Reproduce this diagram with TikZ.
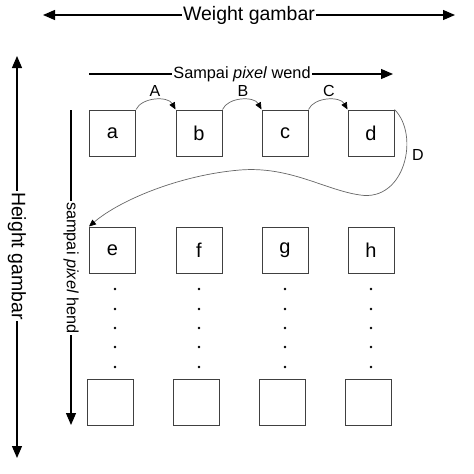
\documentclass[tikz,border=0pt]{standalone}
\usepackage{fontspec}
\setmainfont{Liberation Sans}
\usetikzlibrary{arrows.meta}
\begin{document}
\begin{tikzpicture}[x=1pt,y=-1pt,
  cell/.style={draw=black!75,line width=1pt,minimum width=46pt,minimum height=46pt,inner sep=0pt,font=\fontsize{20}{22}\selectfont},
  bigarrow/.style={line width=1.2pt,-{Triangle[length=12pt,width=10pt]}},
  jump/.style={draw=black!60,line width=0.7pt,-{Triangle[length=7pt,width=6pt,color=black]}},
  lbl/.style={font=\fontsize{16}{18}\selectfont,inner sep=1pt},
  biglbl/.style={font=\fontsize{19.5}{22}\selectfont,fill=white,inner sep=1pt},
  midlbl/.style={font=\fontsize{16.3}{18}\selectfont,fill=white,inner sep=1pt},
  dotc/.style={circle,fill=black,inner sep=0pt,minimum size=2.8pt}]
\useasboundingbox (0,0) rectangle (474,474);
% outer arrows
\coordinate (wl) at (43,15); \coordinate (wr) at (455,15);
\draw[bigarrow,{Triangle[length=12pt,width=10pt]}-{Triangle[length=12pt,width=10pt]}] (wl) -- (wr);
\node[biglbl] (wt) at (249,15) {Weight gambar};
\coordinate (ht) at (17,56); \coordinate (hb) at (17,458);
\draw[bigarrow,{Triangle[length=12pt,width=10pt]}-{Triangle[length=12pt,width=10pt]}] (ht) -- (hb);
\node[biglbl,rotate=-90] (htx) at (17,256) {Height gambar};
% inner arrows
\coordinate (sw0) at (89,74); \coordinate (sw1) at (393,74);
\draw[bigarrow] (sw0) -- (sw1);
\node[midlbl] (swt) at (242,74) {Sampai \textit{pixel} wend};
\coordinate (sh0) at (71,110); \coordinate (sh1) at (71,425);
\draw[bigarrow] (sh0) -- (sh1);
\node[midlbl,rotate=-90] (sht) at (71,268) {sampai \textit{pixel} hend};
% boxes
\node[cell] (a) at (112.5,133) {a};
\node[cell] (b) at (199,133) {b};
\node[cell] (c) at (285,133) {c};
\node[cell] (d) at (371,133) {d};
\node[cell] (e) at (112.5,250) {e};
\node[cell] (f) at (199,250) {f};
\node[cell] (g) at (285,250) {g};
\node[cell] (h) at (371,250) {h};
\node[cell] (p) at (110,402) {};
\node[cell] (q) at (196,402) {};
\node[cell] (r) at (282,402) {};
\node[cell] (s) at (368,402) {};
% dots
\foreach \xx/\nm in {115/ca,199/cb,285/cc,371/cd}{
  \foreach \yy [count=\k] in {289,309,328,347,367}{
    \node[dotc] (\nm\k) at (\xx,\yy) {};
  }
}
% jumps
\draw[jump] (a.north east) .. controls (142,97) and (168,96) .. (b.north west);
\draw[jump] (b.north east) .. controls (228,97) and (254,96) .. (c.north west);
\draw[jump] (c.north east) .. controls (314,97) and (340,96) .. (d.north west);
\node[lbl] (la) at (155,91) {A};
\node[lbl] (lb) at (243,91) {B};
\node[lbl] (lc) at (329,91) {C};
\draw[jump] (d.north east) .. controls (420,135) and (405,202) .. (360,195)
  .. controls (325,190) and (290,166) .. (240,170)
  .. controls (180,175) and (120,200) .. (e.north west);
\node[lbl] (ld) at (418,155) {D};
\end{tikzpicture}
\end{document}
